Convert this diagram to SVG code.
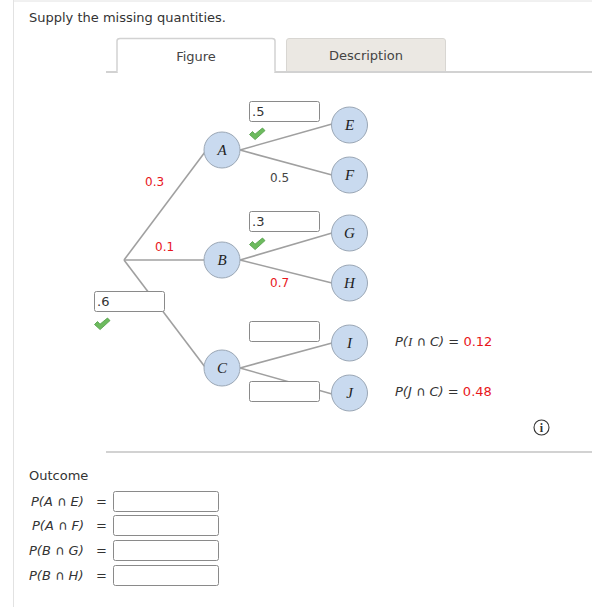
<svg xmlns="http://www.w3.org/2000/svg" width="592" height="607" viewBox="0 0 592 607">
<style>
.t{font-family:"DejaVu Sans",Verdana,sans-serif;font-size:13px;fill:#333}
.tab{font-family:"DejaVu Sans",Verdana,sans-serif;font-size:13px;fill:#444;text-anchor:middle}
.lbl{font-family:"DejaVu Sans",Verdana,sans-serif;font-size:12px}
.red{fill:#e8161b}
.gray{fill:#444}
.node circle{fill:#c9daef;stroke:#9ba7b5;stroke-width:1}
.node text{font-family:"Liberation Serif","Times New Roman",serif;font-style:italic;font-size:15px;fill:#222;text-anchor:middle}
.conn line{stroke:#a0a0a0;stroke-width:1.6}
.box{fill:#fff;stroke:#8a8a8a;stroke-width:1}
.boxt{font-family:"DejaVu Sans",Verdana,sans-serif;font-size:13px;fill:#333}
.it{font-style:italic}
.sep{stroke:#d2d2d2;stroke-width:2}
</style>
<defs>
<g id="check">
<polygon points="0,6.5 3,3.5 5.5,6.2 13,0 15.5,2.6 5.6,11.6" fill="#6dbb5e" stroke="#4c9a42" stroke-width="0.8" stroke-linejoin="round"/>
</g>
</defs>
<rect width="592" height="607" fill="#fff"/>
<line x1="13.5" y1="0" x2="13.5" y2="607" stroke="#e2e2e2" stroke-width="1"/>
<line x1="13" y1="1" x2="592" y2="1" stroke="#e2e2e2" stroke-width="1"/>
<text class="t" x="29" y="22">Supply the missing quantities.</text>

<g id="tabs">
<line x1="106" y1="72" x2="592" y2="72" class="sep"/>
<path d="M117,72 V41 Q117,38.5 120,38.5 H272 Q275,38.5 275,41 V72" fill="#fff" stroke="#d2d2d2" stroke-width="1.5"/>
<rect x="117.8" y="70.5" width="156.4" height="3" fill="#fff"/>
<path d="M286.5,71 V41 Q286.5,38.5 289,38.5 H443 Q445.5,38.5 445.5,41 V71" fill="#ebe8e3" stroke="#d8d6d2" stroke-width="1"/>
<text class="tab" x="196" y="61">Figure</text>
<text class="tab" x="366" y="60">Description</text>
</g>

<g id="connectors" class="conn">
<line x1="124" y1="260" x2="205" y2="152"/>
<line x1="124" y1="260" x2="204" y2="260"/>
<line x1="124" y1="260" x2="205" y2="367"/>
<line x1="240" y1="150" x2="332" y2="124"/>
<line x1="240" y1="150" x2="332" y2="175"/>
<line x1="240" y1="260" x2="332" y2="233"/>
<line x1="240" y1="260" x2="332" y2="283"/>
<line x1="240" y1="368" x2="332" y2="343"/>
<line x1="240" y1="368" x2="332" y2="394"/>
</g>

<g id="nodeA" class="node"><circle cx="222" cy="150" r="18"/><text x="222" y="155">A</text></g>
<g id="nodeB" class="node"><circle cx="222" cy="260" r="18"/><text x="222" y="265">B</text></g>
<g id="nodeC" class="node"><circle cx="222" cy="368" r="18"/><text x="222" y="373">C</text></g>
<g id="nodeE" class="node"><circle cx="349.5" cy="125" r="18"/><text x="349.5" y="130">E</text></g>
<g id="nodeF" class="node"><circle cx="349.5" cy="175" r="18"/><text x="349.5" y="180">F</text></g>
<g id="nodeG" class="node"><circle cx="349.5" cy="233" r="18"/><text x="349.5" y="238">G</text></g>
<g id="nodeH" class="node"><circle cx="349.5" cy="283" r="18"/><text x="349.5" y="288">H</text></g>
<g id="nodeI" class="node"><circle cx="349.5" cy="343" r="18"/><text x="349.5" y="348">I</text></g>
<g id="nodeJ" class="node"><circle cx="349.5" cy="393" r="18"/><text x="349.5" y="398">J</text></g>

<g id="labels">
<text class="lbl red" x="145" y="186">0.3</text>
<text class="lbl red" x="155" y="251">0.1</text>
<text class="lbl gray" x="270" y="182">0.5</text>
<text class="lbl red" x="270" y="287">0.7</text>
</g>

<g id="inputs">
<rect class="box" x="249.5" y="101.5" width="70" height="20" rx="2"/>
<text class="boxt" x="252" y="116">.5</text>
<use href="#check" x="249.5" y="128"/>
<rect class="box" x="249.5" y="211.5" width="70" height="20" rx="2"/>
<text class="boxt" x="252" y="226">.3</text>
<use href="#check" x="249.5" y="238"/>
<rect class="box" x="94.5" y="291.5" width="70" height="20" rx="2"/>
<text class="boxt" x="97" y="306">.6</text>
<use href="#check" x="94.5" y="318"/>
<rect class="box" x="249.5" y="321.5" width="70" height="20" rx="2"/>
<rect class="box" x="249.5" y="381.5" width="70" height="20" rx="2"/>
</g>

<g id="results" class="t">
<text x="395" y="346"><tspan class="it">P(</tspan><tspan font-family="Liberation Serif,serif" font-style="italic">I</tspan><tspan class="it"> ∩ C)</tspan> = <tspan class="red">0.12</tspan></text>
<text x="395" y="396"><tspan class="it">P(J ∩ C)</tspan> = <tspan class="red">0.48</tspan></text>
</g>

<g id="info">
<circle cx="541.5" cy="427.5" r="7.5" fill="#fff" stroke="#333" stroke-width="1.1"/>
<text x="541.5" y="432" font-family="Liberation Serif,serif" font-size="12" font-weight="bold" fill="#333" text-anchor="middle">i</text>
</g>

<line x1="106" y1="452" x2="592" y2="452" class="sep"/>

<g id="outcome">
<text class="t" x="29" y="480">Outcome</text>
<text class="t it" x="31" y="506">P(A ∩ E)</text>
<text class="t it" x="32" y="530">P(A ∩ F)</text>
<text class="t it" x="29" y="555">P(B ∩ G)</text>
<text class="t it" x="29" y="580">P(B ∩ H)</text>
<text class="t" x="96" y="506">=</text>
<text class="t" x="96" y="530">=</text>
<text class="t" x="96" y="555">=</text>
<text class="t" x="96" y="580">=</text>
<rect class="box" x="113.5" y="491.5" width="105" height="20" rx="2"/>
<rect class="box" x="113.5" y="515.5" width="105" height="20" rx="2"/>
<rect class="box" x="113.5" y="540.5" width="105" height="20" rx="2"/>
<rect class="box" x="113.5" y="565.5" width="105" height="20" rx="2"/>
</g>
</svg>
